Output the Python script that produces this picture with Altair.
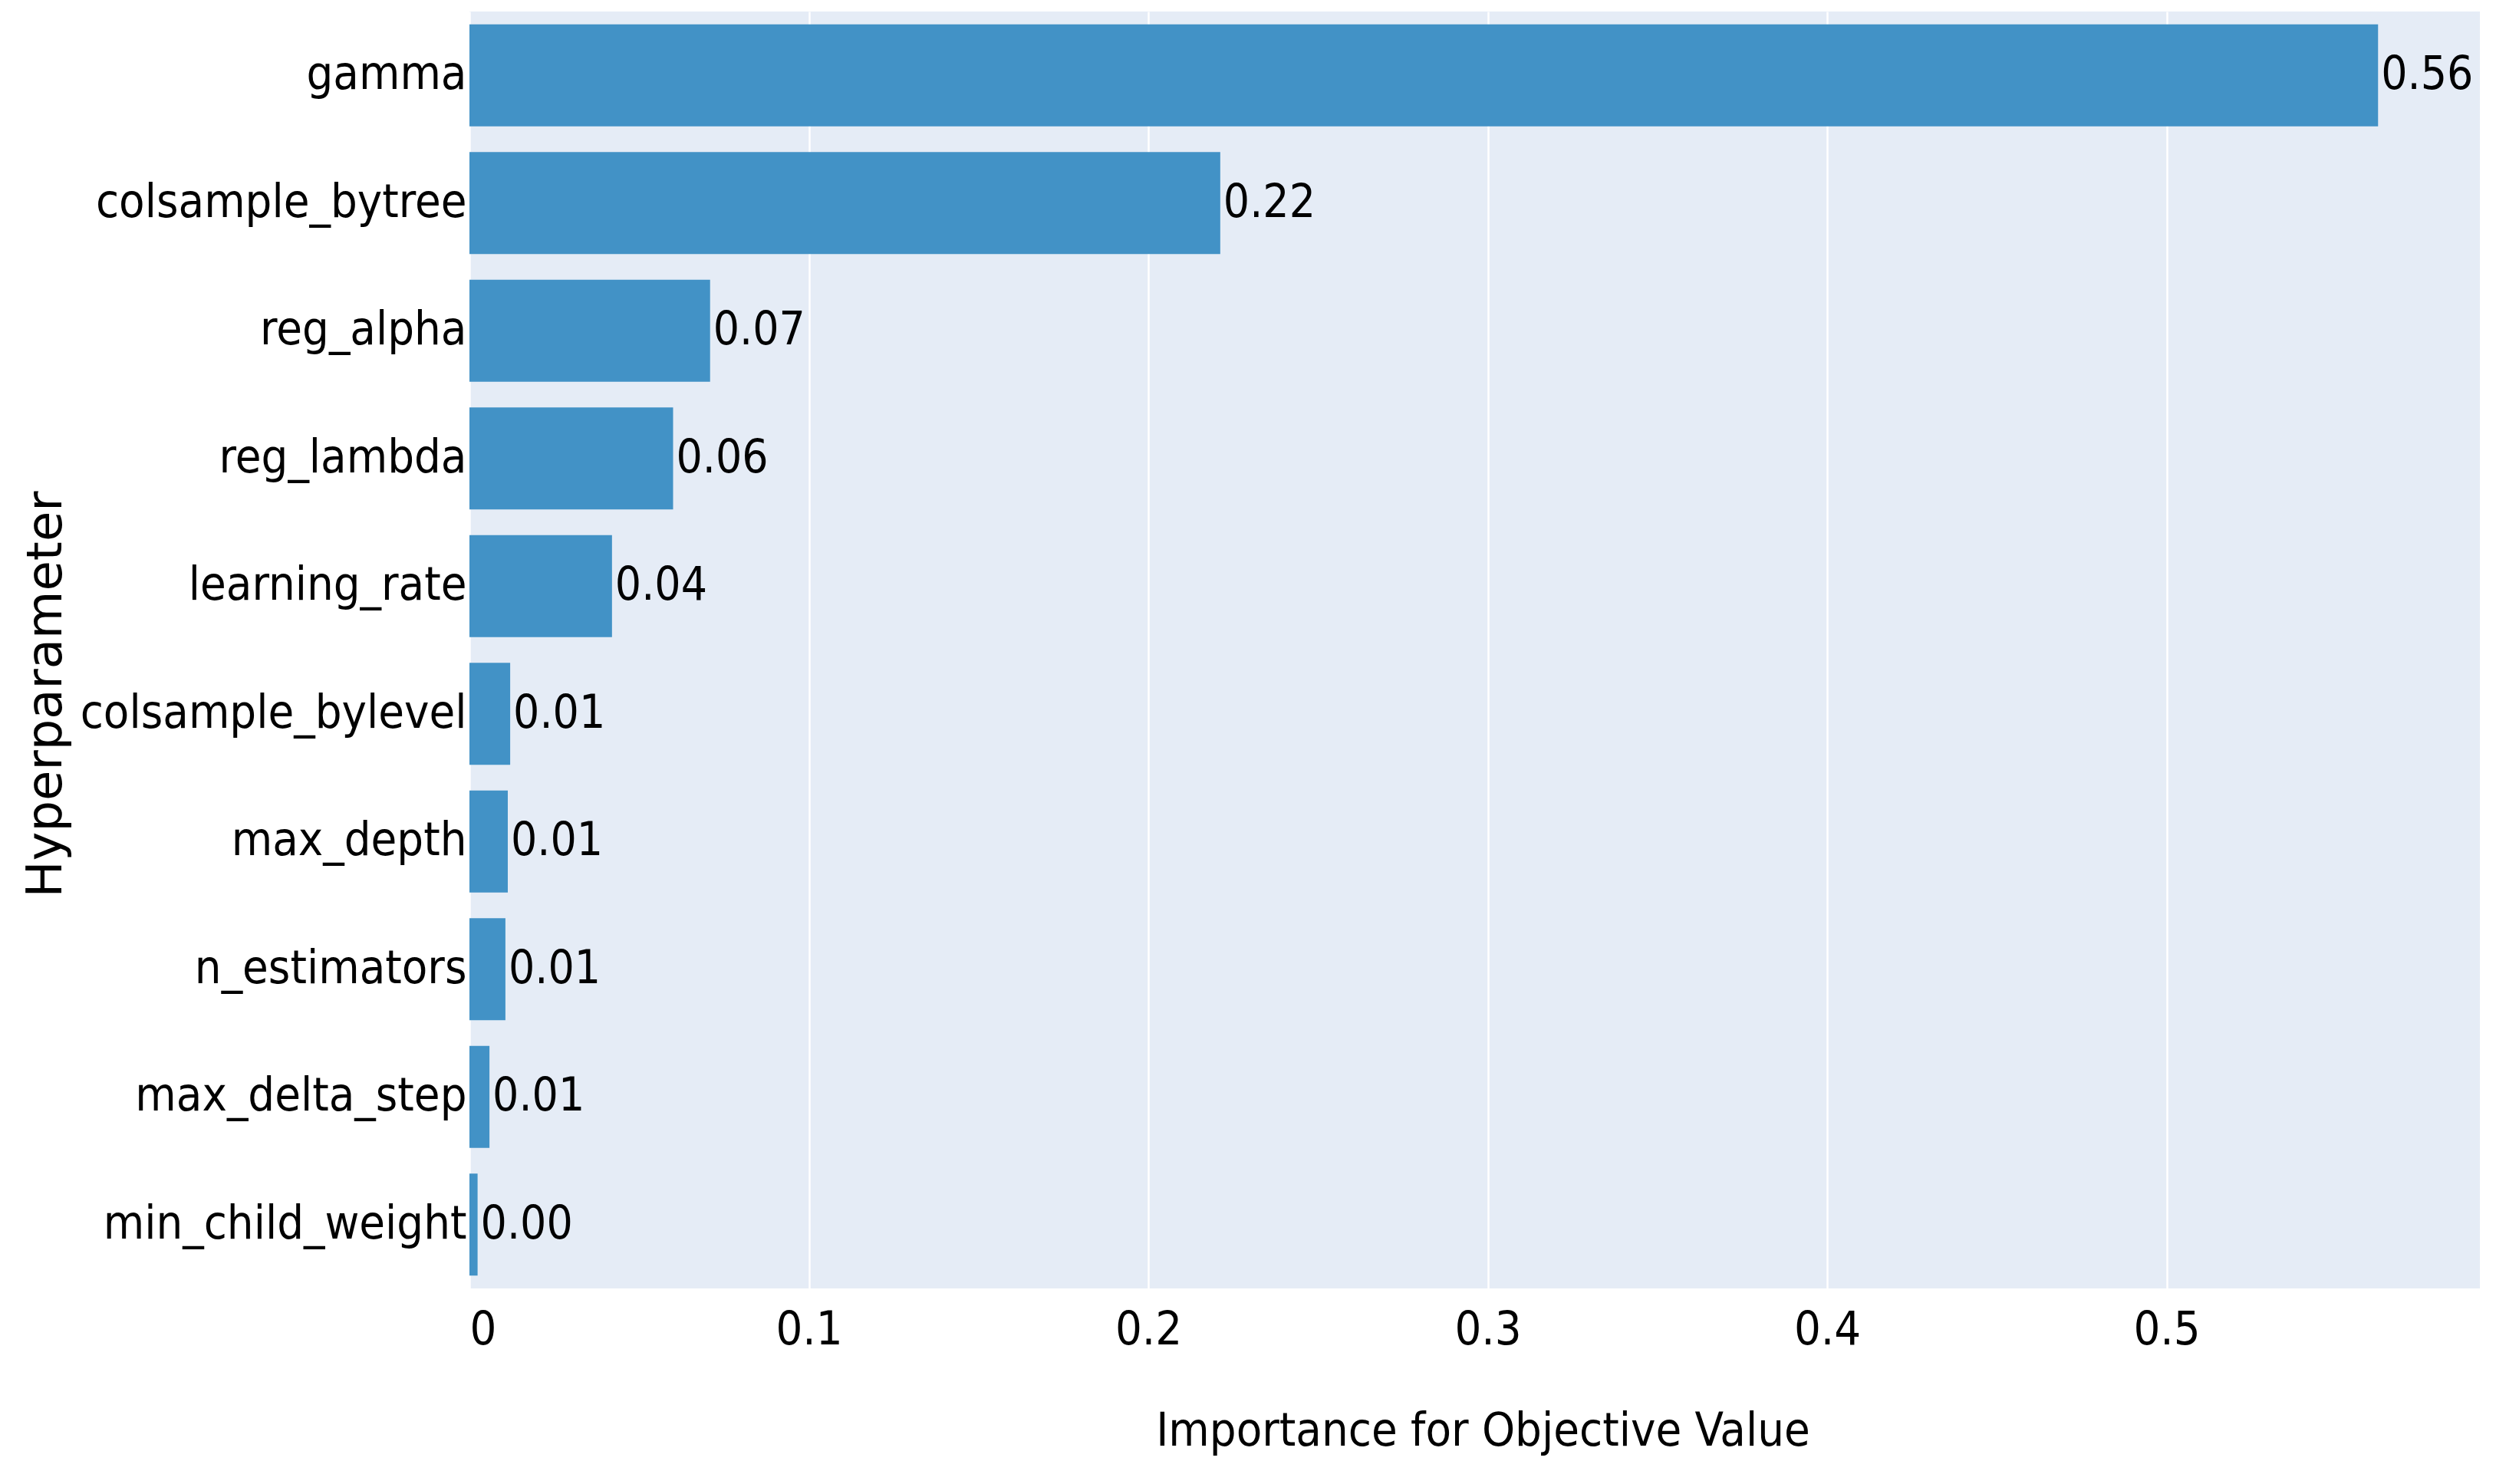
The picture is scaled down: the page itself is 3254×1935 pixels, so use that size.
import altair as alt
import pandas as pd

params = ["gamma", "colsample_bytree", "reg_alpha", "reg_lambda", "learning_rate",
          "colsample_bylevel", "max_depth", "n_estimators", "max_delta_step", "min_child_weight"]
importance = [0.5623, 0.2212, 0.0709, 0.0600, 0.0420, 0.0120, 0.0113, 0.0106, 0.0059, 0.0024]
x_ticks = [0, 0.1, 0.2, 0.3, 0.4, 0.5]

df = pd.DataFrame({"param": params, "importance": importance})

FONT = "DejaVu Sans Condensed, Liberation Sans Narrow, Roboto, sans-serif"
TITLE_FONT = "DejaVu Sans, Verdana, sans-serif"

base = alt.Chart(df)

bars = base.mark_bar(color="#4292C6").encode(
    y=alt.Y("param:N", sort=params,
            scale=alt.Scale(paddingInner=0.2, paddingOuter=0.1),
            axis=alt.Axis(title="Hyperparameter", labelFont=FONT, labelFontSize=61,
                          labelColor="#000000", labelPadding=4, labelLimit=0,
                          ticks=False, domain=False,
                          grid=False, titleFont=TITLE_FONT, titleFontSize=64,
                          titleFontWeight="normal", titleColor="#000000",
                          titleAngle=270, titleX=-552, titleY=890,
                          titleAlign="center", titleBaseline="middle")),
    x=alt.X("importance:Q",
            scale=alt.Scale(domain=[0, 0.5923], nice=False, zero=True),
            axis=alt.Axis(title="Importance for Objective Value", values=x_ticks,
                          format=".1~f", labelFont=FONT, labelFontSize=61,
                          labelColor="#000000", labelPadding=54, labelBaseline="middle",
                          ticks=False, domain=False, grid=True, gridColor="#FFFFFF",
                          gridWidth=2.5, titleFont=FONT, titleFontSize=61,
                          titleFontWeight="normal", titleColor="#000000",
                          titleX=1321, titleY=186, titleAlign="center",
                          titleBaseline="middle")),
)

labels = base.mark_text(align="left", baseline="middle", dx=4, font=FONT,
                        fontSize=60, color="#000000").encode(
    y=alt.Y("param:N", sort=params),
    x=alt.X("importance:Q"),
    text=alt.Text("importance:Q", format=".2f"),
)

chart = (bars + labels).properties(
    width=2621, height=1665,
    padding={"left": 604, "top": 7, "right": 13, "bottom": 240},
    autosize=alt.AutoSizeParams(type="none"),
    background="#FFFFFF",
).configure_view(fill="#E5ECF6", stroke=None)

chart.save("out.html", embed_options={"renderer": "svg", "actions": False})
